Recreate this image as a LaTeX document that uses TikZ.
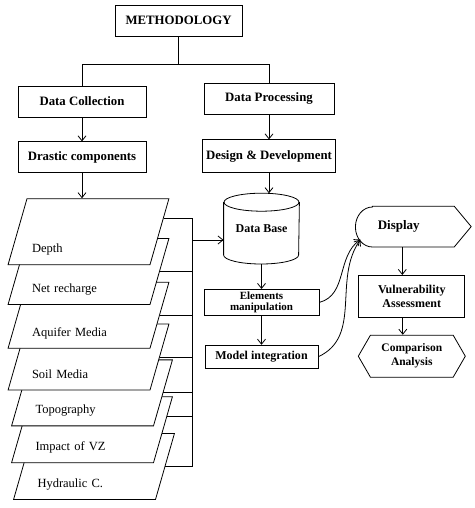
\documentclass[tikz,border=0pt]{standalone}
\usepackage{fontspec}
\setmainfont{Liberation Serif}
\usetikzlibrary{positioning,arrows.meta,shapes.geometric,shapes.symbols}

\begin{document}
\begin{tikzpicture}[
    x=1pt, y=-1pt,
    line width=0.8pt,
    box/.style={
        draw,
        align=center,
        minimum height=31pt,
        font=\fontsize{12.8}{14}\selectfont\bfseries
    },
    factor/.style={
        draw,
        fill=white,
        trapezium,
        trapezium left angle=74,
        trapezium right angle=106,
        inner xsep=5pt,
        inner ysep=0pt,
        text width=113pt,
        text height=54pt,
        text depth=12pt,
        align=left,
        font=\fontsize{12.5}{14}\selectfont
    },
    arrow/.style={-{Straight Barb[length=5pt,width=8pt]}}
]
\useasboundingbox (0,0) rectangle (474,508);

% top of the tree
\node[box, minimum width=127pt] (method) at (178.5,20.5) {METHODOLOGY};
\coordinate[below=28pt of method] (split);
\node[box, minimum width=128pt] (collect) at (82,101.5) {Data Collection};
\node[box, minimum width=130pt] (process) at (269,98.5) {Data Processing};
\node[box, minimum width=128pt, below=24pt of collect] (drastic) {Drastic components};
\node[box, minimum width=130pt, minimum height=33pt, below=25pt of process] (design) {Design \& Development};

% processing column
\node[minimum width=75pt, minimum height=70pt, font=\fontsize{12}{14}\selectfont\bfseries,
      below=20pt of design, xshift=-7.5pt] (database) {Data Base};
\draw ([yshift=-9pt]database.north) ellipse [x radius=37.5pt, y radius=9pt];
\draw ([yshift=-9pt]database.north west) -- ([yshift=9pt]database.south west)
    arc [start angle=180, end angle=360, x radius=37.5pt, y radius=9pt]
    -- ([yshift=-9pt]database.north east);
\node[box, minimum width=115pt, minimum height=26pt, inner ysep=1pt,
      font=\fontsize{11}{10.5}\selectfont\bfseries, below=25pt of database] (elements) {Elements\\manipulation};
\node[box, minimum width=113pt, minimum height=23pt,
      font=\fontsize{12}{14}\selectfont\bfseries, below=29pt of elements] (model) {Model integration};

% output column
\node[minimum width=115pt, minimum height=40pt, inner xsep=22pt, text width=71pt, align=left,
      font=\fontsize{13}{15}\selectfont\bfseries, right=56pt of database, yshift=2pt] (display) {Display};
\draw ([xshift=17pt]display.north west) -- ([xshift=-17pt]display.north east) -- (display.east)
    -- ([xshift=-17pt]display.south east) -- ([xshift=17pt]display.south west)
    arc [start angle=270, end angle=90, x radius=17pt, y radius=20pt] -- cycle;
\coordinate (display in) at ([xshift=5pt, yshift=-13pt]display.west);
\node[box, minimum width=106pt, minimum height=42pt, font=\fontsize{12}{14}\selectfont\bfseries,
      below=28pt of display, xshift=-1.5pt] (vuln) {Vulnerability\\Assessment};
\node[draw, signal, signal to=east and west, signal pointer angle=120, align=center,
      minimum width=107pt, minimum height=42pt, font=\fontsize{11.5}{14}\selectfont\bfseries,
      below=17pt of vuln] (compare) {Comparison\\Analysis};

% drastic layers, drawn from the back
\node[factor] (hydraulic) at (94,466.5) {Hydraulic C.};
\node[factor, above=-30pt of hydraulic, xshift=-2pt] (impact) {Impact of VZ};
\node[factor, above=-30pt of impact] (topo) {Topography};
\node[factor, above=-31pt of topo, xshift=-3.5pt] (soil) {Soil Media};
\node[factor, above=-25pt of soil] (aquifer) {Aquifer Media};
\node[factor, above=-23pt of aquifer] (net) {Net recharge};
\node[factor, above=-27pt of net] (depth) {Depth};

\coordinate (bus) at (192,240);
\foreach \f/\a in {depth/10, net/east, aquifer/east, soil/east, topo/east, impact/10, hydraulic/east}
    \draw (\f.\a) -- (\f.\a -| bus);
\draw (depth.10 -| bus) -- (hydraulic.east -| bus);

% connectors
\draw (method) -- (split);
\draw (collect.north) |- (split) -| (process.north);
\draw[arrow] (collect) -- (drastic);
\draw[arrow] (process) -- (design);
\draw[arrow] (drastic) -- (drastic.south |- depth.north);
\draw[arrow] (design) -- (design.south |- database.north);
\draw[arrow] (bus) -- (bus -| database.west);
\draw[arrow] (database) -- (elements);
\draw[arrow] (elements) -- (model);
\draw[arrow] (elements.east) to[out=15, in=215] (display in);
\draw[arrow] (model.east) to[out=25, in=235] (display in);
\draw[arrow] ([xshift=-11pt]display.south) -- ([xshift=-11pt]display.south |- vuln.north);
\draw[arrow] ([xshift=-9pt]vuln.south) -- ([xshift=-9pt]vuln.south |- compare.north);

\end{tikzpicture}
\end{document}
